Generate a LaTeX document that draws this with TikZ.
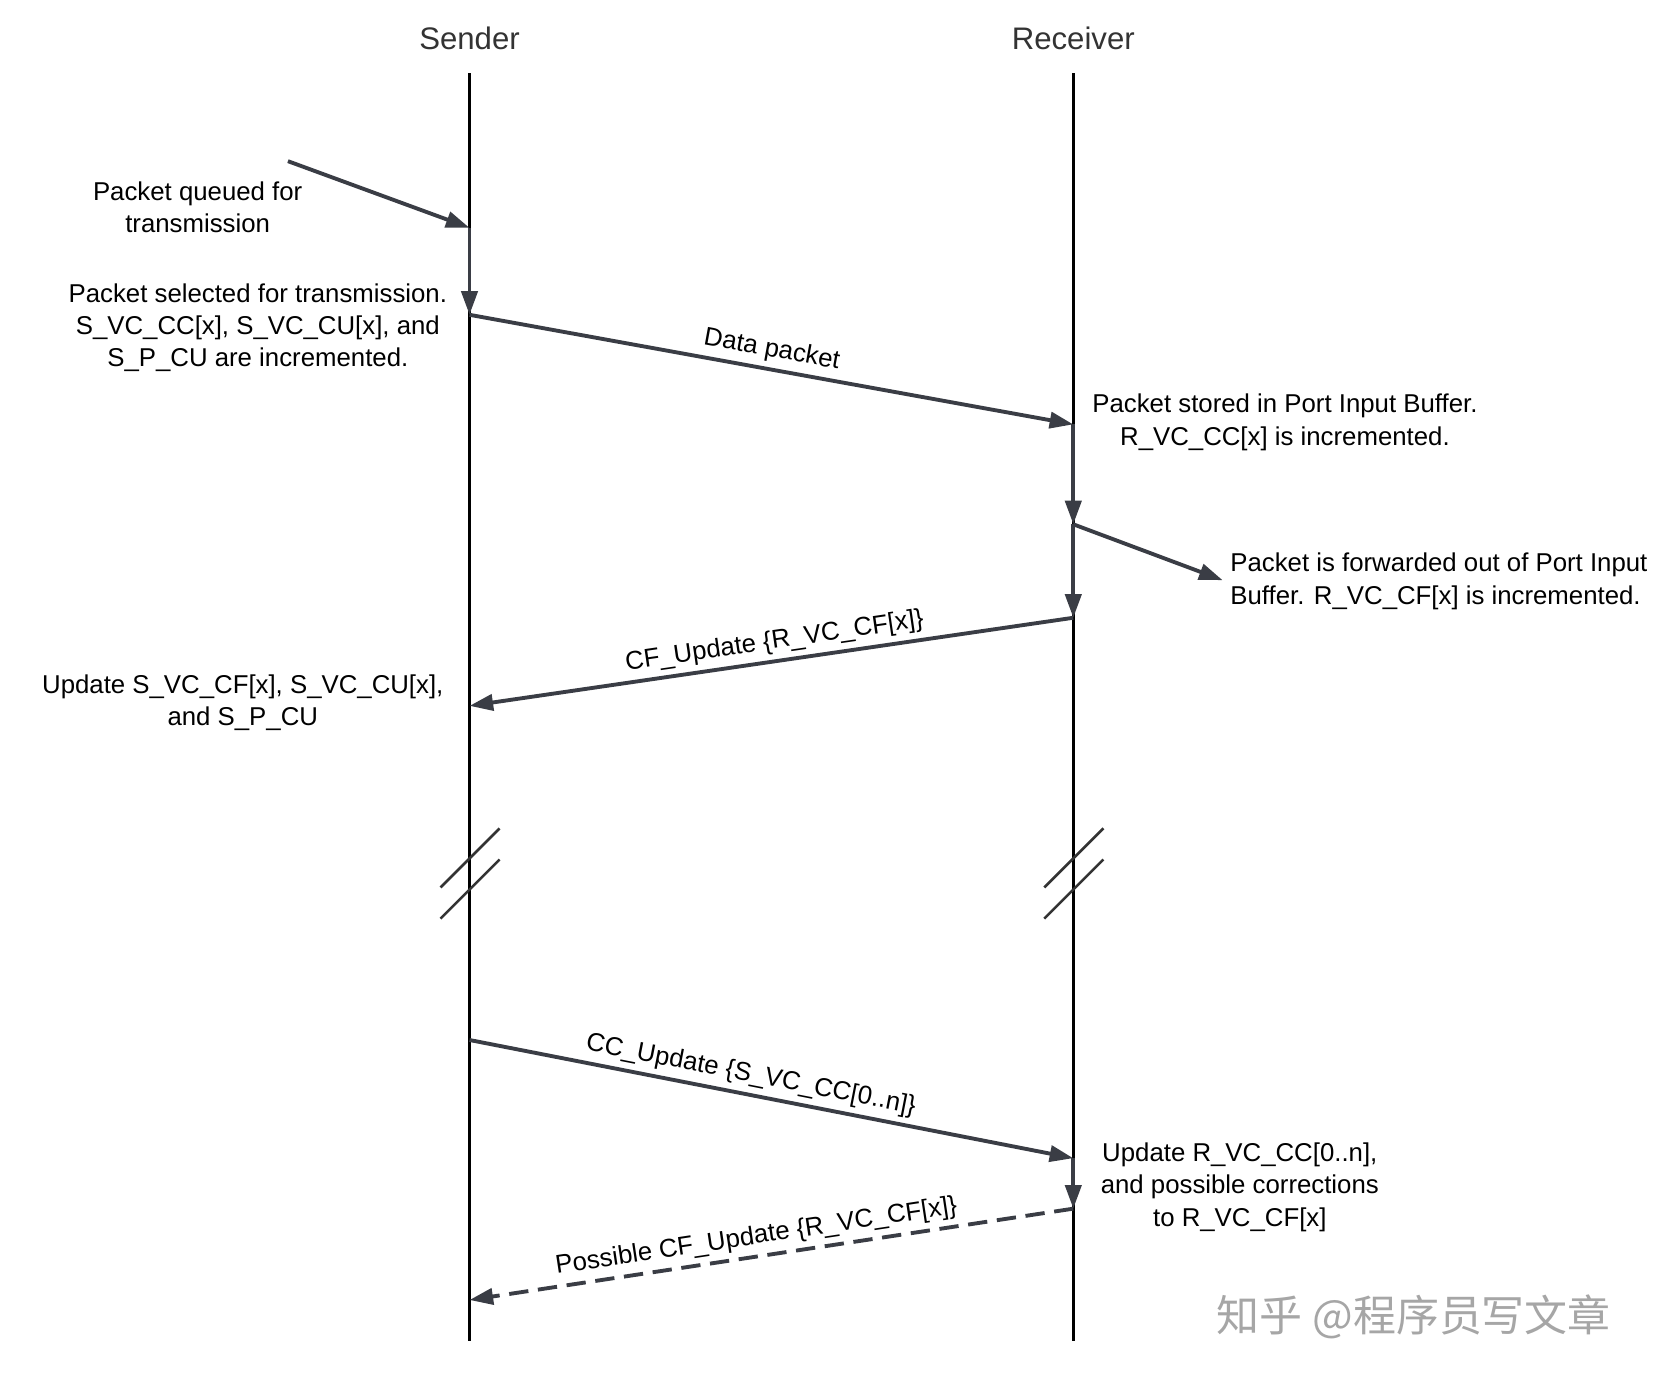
\documentclass[tikz,border=0pt]{standalone}
\usepackage{fontspec}
\setmainfont{Liberation Sans}
\newfontfamily\cjk{Noto Sans CJK SC}
\usetikzlibrary{arrows.meta}
\begin{document}
\begin{tikzpicture}[x=1pt,y=-1pt,
  ln/.style={draw=lc,line width=3.6pt,-{Triangle[length=22pt,width=15pt]}},
  life/.style={draw=black,line width=2.6pt},
  lbl/.style={font=\fontsize{24}{30}\selectfont,align=center,inner sep=2pt},
  alb/.style={lbl,sloped,above,inner sep=5pt},
  ttl/.style={font=\fontsize{29}{30}\selectfont,text=black!80},
  brk/.style={draw=black!80,line width=2.4pt}]
\definecolor{lc}{HTML}{3A3D45}
\useasboundingbox (0,0) rectangle (1560,1283);
\node[ttl] (S) at (437,36) {Sender};
\node[ttl] (R) at (999,36) {Receiver};
\coordinate (st) at (437,68); \coordinate (sb) at (437,1248);
\coordinate (rt) at (999,68); \coordinate (rb) at (999,1248);
\draw[life] (st) -- (sb);
\draw[life] (rt) -- (rb);
% break marks
\coordinate (b1a) at (410,826); \coordinate (b1b) at (465,771);
\coordinate (b2a) at (410,855); \coordinate (b2b) at (465,800);
\draw[brk] (b1a) -- (b1b); \draw[brk] (b2a) -- (b2b);
\coordinate (b3a) at (972,826); \coordinate (b3b) at (1027,771);
\coordinate (b4a) at (972,855); \coordinate (b4b) at (1027,800);
\draw[brk] (b3a) -- (b3b); \draw[brk] (b4a) -- (b4b);
% points
\coordinate (q0) at (268,150);
\coordinate (s1) at (437,212);
\coordinate (s2) at (437,293);
\coordinate (r1) at (999,395);
\coordinate (r2) at (999,488);
\coordinate (f1) at (1138,540);
\coordinate (r3) at (999,575);
\coordinate (s3) at (437,657);
\coordinate (s4) at (437,968);
\coordinate (r4) at (999,1078);
\coordinate (r5) at (999,1125);
\coordinate (s5) at (437,1210);
\draw[ln] (q0) -- (s1);
\draw[ln] (s1) -- (s2);
\draw[ln] (s2) -- node[alb,pos=0.495]{Data packet} (r1);
\draw[ln] (r1) -- (r2);
\draw[ln] (r2) -- (f1);
\draw[ln] (r2) -- (r3);
\draw[ln] (r3) -- node[alb,pos=0.49]{CF\_Update \{R\_VC\_CF[x]\}} (s3);
\draw[ln] (s4) -- node[alb,pos=0.46]{CC\_Update \{S\_VC\_CC[0..n]\}} (r4);
\draw[ln] (r4) -- (r5);
\draw[ln,dashed,dash pattern=on 18pt off 9pt] (r5) -- node[alb,pos=0.52]{Possible CF\_Update \{R\_VC\_CF[x]\}} (s5);
% labels
\node[lbl] (l1) at (184,193) {Packet queued for\\transmission};
\node[lbl] (l2) at (240,305) {Packet selected for transmission.\\S\_VC\_CC[x], S\_VC\_CU[x], and\\S\_P\_CU are incremented.};
\node[lbl] (l3) at (1196,393) {Packet stored in Port Input Buffer.\\R\_VC\_CC[x] is incremented.};
\node[lbl,anchor=west,align=left] (l4) at (1143,541) {Packet is forwarded out of Port Input\\Buffer. R\_VC\_CF[x] is incremented.};
\node[lbl] (l5) at (226,654) {Update S\_VC\_CF[x], S\_VC\_CU[x],\\and S\_P\_CU};
\node[lbl] (l6) at (1154,1105) {Update R\_VC\_CC[0..n],\\and possible corrections\\to R\_VC\_CF[x]};
\node[font=\cjk\fontsize{40}{44}\selectfont,text=black!35] (wm) at (1316,1226) {知乎 @程序员写文章};
\end{tikzpicture}
\end{document}
